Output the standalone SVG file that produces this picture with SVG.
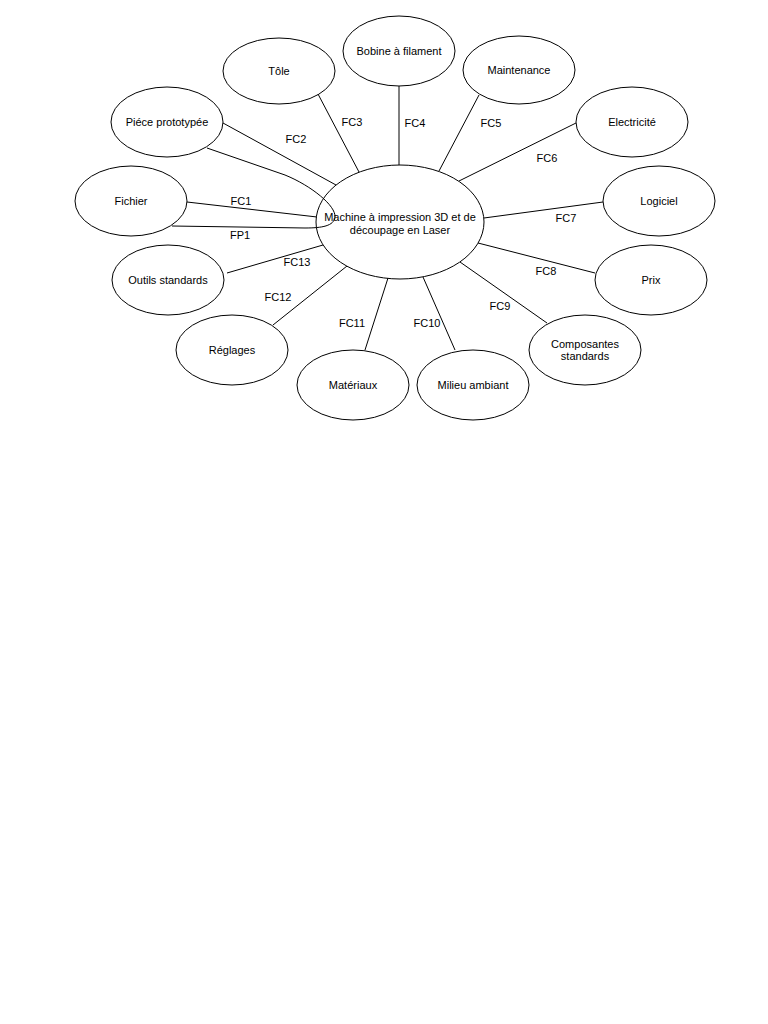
<svg xmlns="http://www.w3.org/2000/svg" width="768" height="1024" viewBox="0 0 768 1024">
<style>
.n ellipse{fill:#fff;stroke:#000;stroke-width:1}
text{font-family:"Liberation Sans",Arial,sans-serif;font-size:11px;fill:#000;text-anchor:middle}
.c line,.c path{stroke:#000;stroke-width:1;fill:none}
</style>
<rect width="768" height="1024" fill="#fff"/>
<g id="center" class="n"><ellipse cx="400" cy="222" rx="84" ry="57"/><text x="400" y="221">Machine à impression 3D et de</text><text x="400" y="234">découpage en Laser</text></g>
<g id="tole" class="n"><ellipse cx="279" cy="71" rx="56" ry="33"/><text x="279" y="75">Tôle</text></g>
<g id="bobine" class="n"><ellipse cx="399" cy="51" rx="56" ry="35"/><text x="399" y="55">Bobine à filament</text></g>
<g id="maintenance" class="n"><ellipse cx="519" cy="70" rx="56" ry="34"/><text x="519" y="74">Maintenance</text></g>
<g id="piece" class="n"><ellipse cx="167" cy="122" rx="56" ry="35"/><text x="167" y="126">Piéce prototypée</text></g>
<g id="electricite" class="n"><ellipse cx="632" cy="122" rx="56" ry="35"/><text x="632" y="126">Electricité</text></g>
<g id="fichier" class="n"><ellipse cx="131" cy="201" rx="56" ry="35"/><text x="131" y="205">Fichier</text></g>
<g id="logiciel" class="n"><ellipse cx="659" cy="201" rx="56" ry="35"/><text x="659" y="205">Logiciel</text></g>
<g id="outils" class="n"><ellipse cx="168" cy="280" rx="56" ry="35"/><text x="168" y="284">Outils standards</text></g>
<g id="prix" class="n"><ellipse cx="651" cy="280" rx="56" ry="35"/><text x="651" y="284">Prix</text></g>
<g id="reglages" class="n"><ellipse cx="232" cy="350" rx="56" ry="35"/><text x="232" y="354">Réglages</text></g>
<g id="composantes" class="n"><ellipse cx="585" cy="350" rx="56" ry="35"/><text x="585" y="348">Composantes</text><text x="585" y="360">standards</text></g>
<g id="materiaux" class="n"><ellipse cx="353" cy="385" rx="56" ry="35"/><text x="353" y="389">Matériaux</text></g>
<g id="milieu" class="n"><ellipse cx="473" cy="385" rx="56" ry="35"/><text x="473" y="389">Milieu ambiant</text></g>
<g id="connectors" class="c">
<path d="M207,148 L285,175 C312,186 336,206 335,217 C334,226 322,228 305,228 L172,226"/>
<line x1="187" y1="202" x2="317" y2="217"/>
<line x1="223" y1="123" x2="336" y2="185"/>
<line x1="318" y1="94" x2="359" y2="172"/>
<line x1="399" y1="86" x2="399" y2="165"/>
<line x1="479" y1="95" x2="439" y2="171"/>
<line x1="576" y1="123" x2="459" y2="181"/>
<line x1="603" y1="202" x2="484" y2="218"/>
<line x1="478" y1="243" x2="595" y2="273"/>
<line x1="460" y1="262" x2="547" y2="323"/>
<line x1="423" y1="277" x2="455" y2="350"/>
<line x1="388" y1="278" x2="365" y2="350"/>
<line x1="347" y1="266" x2="273" y2="325"/>
<line x1="323" y1="245" x2="227" y2="273"/>
<text x="241" y="205">FC1</text>
<text x="240" y="239">FP1</text>
<text x="296" y="143">FC2</text>
<text x="352" y="126">FC3</text>
<text x="415" y="127">FC4</text>
<text x="491" y="127">FC5</text>
<text x="547" y="162">FC6</text>
<text x="566" y="222">FC7</text>
<text x="546" y="275">FC8</text>
<text x="500" y="310">FC9</text>
<text x="427" y="327">FC10</text>
<text x="352" y="327">FC11</text>
<text x="278" y="301">FC12</text>
<text x="297" y="266">FC13</text>
</g>
</svg>
